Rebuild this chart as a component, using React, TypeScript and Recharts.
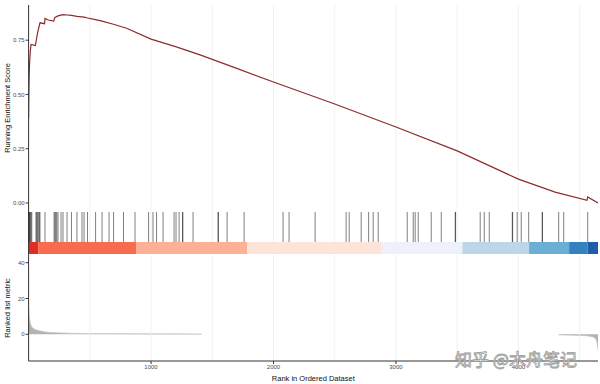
import {
  Area,
  AreaChart,
  Line,
  LineChart,
  ReferenceArea,
  ReferenceLine,
  XAxis,
  YAxis,
} from 'recharts'

const FONT = '"Liberation Sans", Arial, sans-serif'
const N_GENES = 4650

const X_TICKS = [1000, 2000, 3000, 4000]
const GRID_X = [500, 1000, 1500, 2000, 2500, 3000, 3500, 4000, 4500]
const ES_TICKS = [0, 0.25, 0.5, 0.75]
const METRIC_TICKS = [0, 20, 40]

// running enrichment score
const ES_RANKS = [
  0, 2, 4, 8, 14, 20, 55, 60, 66, 72, 80, 93, 130, 134, 160, 205, 215, 240, 281,
  314, 350, 395, 453, 481, 547, 600, 700, 800, 1000, 1200, 1400, 1700, 2000,
  2500, 3000, 3500, 4000, 4300, 4560, 4566, 4650,
]
const ES_VALUES = [
  0.39, 0.5, 0.57, 0.645, 0.7, 0.73, 0.725, 0.74, 0.76, 0.78, 0.8, 0.83, 0.826,
  0.85, 0.843, 0.838, 0.855, 0.862, 0.868, 0.866, 0.864, 0.86, 0.856, 0.852,
  0.845, 0.838, 0.822, 0.805, 0.755, 0.72, 0.682, 0.62, 0.557, 0.456, 0.35,
  0.24, 0.11, 0.05, 0.012, 0.028, 0.0,
]

// positions of the gene set members in the ranked list
const HIT_RANKS = [
  0, 2, 5, 9, 14, 20, 26, 60, 66, 72, 80, 88, 93, 134, 208, 215, 222, 230, 240,
  265, 281, 314, 350, 395, 436, 453, 481, 547, 600, 657, 694, 775, 869, 980,
  1016, 1045, 1098, 1188, 1204, 1229, 1257, 1260, 1343, 1547, 1550, 1621, 1760,
  2078, 2127, 2340, 2593, 2618, 2716, 2777, 2814, 2855, 3092, 3141, 3157, 3182,
  3288, 3370, 3484, 3487, 3688, 3721, 3762, 3950, 3953, 3990, 4023, 4084, 4194,
  4197, 4329, 4370, 4566,
]

// colour bar under the hits
const BAND_STARTS = [0, 80, 877, 1787, 2884, 3542, 4087, 4414, 4566]
const BAND_ENDS = [80, 877, 1787, 2884, 3542, 4087, 4414, 4566, 4650]
const BAND_COLORS = [
  '#DE2D26',
  '#F96B4D',
  '#FCB095',
  '#FEE4D8',
  '#EEF1FC',
  '#BDD7E8',
  '#6BAED6',
  '#3483C0',
  '#1F5DA8',
]

// ranked list metric (null = too small to show)
const METRIC_RANKS = [
  0, 3, 8, 15, 25, 40, 66, 100, 175, 250, 395, 600, 1000, 1414, 1420, 4320,
  4330, 4450, 4550, 4610, 4635, 4645, 4650,
]
const METRIC_VALUES: (number | null)[] = [
  16, 12, 8.5, 6, 4.3, 3.2, 2.4, 1.8, 1.0, 0.8, 0.5, 0.35, 0.25, 0.15, null,
  null, -0.3, -0.5, -0.8, -1.5, -3, -6, -9,
]

const esData = ES_RANKS.map((rank, i) => ({ rank, es: ES_VALUES[i] }))
const metricData = METRIC_RANKS.map((rank, i) => ({
  rank,
  metric: METRIC_VALUES[i],
}))
// frame for the hit panel: only sets up the scales
const frameData = [
  { rank: 0, y: 0 },
  { rank: N_GENES, y: 1 },
]

const tickStyle = { fontSize: 6, fill: '#4D4D4D', fontFamily: FONT }
const AXIS = '#333333'
const GRID = '#EDEDED'

function gridLines() {
  return GRID_X.map((g) => (
    <ReferenceLine key={`g${g}`} x={g} stroke={GRID} strokeWidth={0.8} />
  ))
}

export default function App() {
  return (
    <div
      style={{
        position: 'absolute',
        left: 0,
        top: 0,
        width: 600,
        height: 384,
        background: '#fff',
        fontFamily: FONT,
      }}
    >
      <div style={{ position: 'absolute', left: 0, top: 0 }}>
        <LineChart
          width={600}
          height={211}
          data={esData}
          margin={{ top: 5, right: 2, bottom: 0, left: 0 }}
        >
          {gridLines()}
          <XAxis
            type="number"
            dataKey="rank"
            domain={[0, N_GENES]}
            allowDataOverflow
            hide
          />
          <YAxis
            type="number"
            domain={[-0.037, 0.912]}
            ticks={ES_TICKS}
            allowDataOverflow
            width={28.6}
            tickSize={3}
            tickMargin={1}
            tick={tickStyle}
            tickFormatter={(v: number) => v.toFixed(2)}
            axisLine={{ stroke: AXIS }}
            tickLine={{ stroke: AXIS }}
          />
          <Line
            type="linear"
            dataKey="es"
            stroke="#8E2B2B"
            strokeWidth={1.2}
            dot={false}
            isAnimationActive={false}
          />
        </LineChart>
      </div>

      <div style={{ position: 'absolute', left: 0, top: 211 }}>
        <LineChart
          width={600}
          height={44}
          data={frameData}
          margin={{ top: 0, right: 2, bottom: 0, left: 0 }}
        >
          <XAxis
            type="number"
            dataKey="rank"
            domain={[0, N_GENES]}
            allowDataOverflow
            hide
          />
          <YAxis
            type="number"
            domain={[0, 1]}
            allowDataOverflow
            width={28.6}
            tick={false}
            tickLine={false}
            axisLine={{ stroke: AXIS }}
          />
          <Line
            dataKey="y"
            stroke="none"
            dot={false}
            activeDot={false}
            isAnimationActive={false}
          />
          {GRID_X.map((g) => (
            <ReferenceLine
              key={`mg${g}`}
              segment={[
                { x: g, y: 0.295 },
                { x: g, y: 1 },
              ]}
              stroke={GRID}
              strokeWidth={0.8}
            />
          ))}
          {BAND_STARTS.map((s, i) => (
            <ReferenceArea
              key={`b${s}`}
              x1={s}
              x2={BAND_ENDS[i]}
              y1={0.023}
              y2={0.295}
              fill={BAND_COLORS[i]}
              fillOpacity={1}
              stroke="none"
            />
          ))}
          {HIT_RANKS.map((r, i) => (
            <ReferenceLine
              key={`h${i}`}
              segment={[
                { x: r, y: 0.295 },
                { x: r, y: 0.977 },
              ]}
              stroke="#000"
              strokeOpacity={0.5}
              strokeWidth={1}
            />
          ))}
        </LineChart>
      </div>

      <div style={{ position: 'absolute', left: 0, top: 255 }}>
        <AreaChart
          width={600}
          height={129}
          data={metricData}
          margin={{ top: 0, right: 2, bottom: 0, left: 0 }}
        >
          {gridLines()}
          <XAxis
            type="number"
            dataKey="rank"
            domain={[0, N_GENES]}
            ticks={X_TICKS}
            allowDataOverflow
            height={23}
            tickSize={3}
            tickMargin={1}
            tick={tickStyle}
            axisLine={{ stroke: AXIS }}
            tickLine={{ stroke: AXIS }}
            label={{
              value: 'Rank in Ordered Dataset',
              position: 'insideBottom',
              offset: 3,
              style: { fontSize: 7.5, fill: '#111', fontFamily: FONT },
            }}
          />
          <YAxis
            type="number"
            domain={[-14.9, 44.3]}
            ticks={METRIC_TICKS}
            allowDataOverflow
            width={28.6}
            tickSize={3}
            tickMargin={1}
            tick={tickStyle}
            axisLine={{ stroke: AXIS }}
            tickLine={{ stroke: AXIS }}
          />
          <Area
            type="monotone"
            dataKey="metric"
            baseValue={0}
            stroke="#C4C4C4"
            strokeWidth={0.8}
            fill="#B3B3B3"
            fillOpacity={1}
            connectNulls={false}
            dot={false}
            isAnimationActive={false}
          />
        </AreaChart>
      </div>

      <div
        style={{
          position: 'absolute',
          left: 7,
          top: 108,
          transform: 'translate(-50%, -50%) rotate(-90deg)',
          whiteSpace: 'nowrap',
          fontSize: 7.5,
          color: '#111',
        }}
      >
        Running Enrichment Score
      </div>
      <div
        style={{
          position: 'absolute',
          left: 7,
          top: 308,
          transform: 'translate(-50%, -50%) rotate(-90deg)',
          whiteSpace: 'nowrap',
          fontSize: 7.5,
          color: '#111',
        }}
      >
        Ranked list metric
      </div>
      <div
        style={{
          position: 'absolute',
          left: 455,
          top: 350,
          whiteSpace: 'nowrap',
          fontSize: 17,
          fontFamily: '"Noto Sans CJK SC", sans-serif',
          color: '#fff',
          WebkitTextStroke: '0.8px #9A9A9A',
          lineHeight: 1,
        }}
      >
        知乎 @木舟笔记
      </div>
    </div>
  )
}
